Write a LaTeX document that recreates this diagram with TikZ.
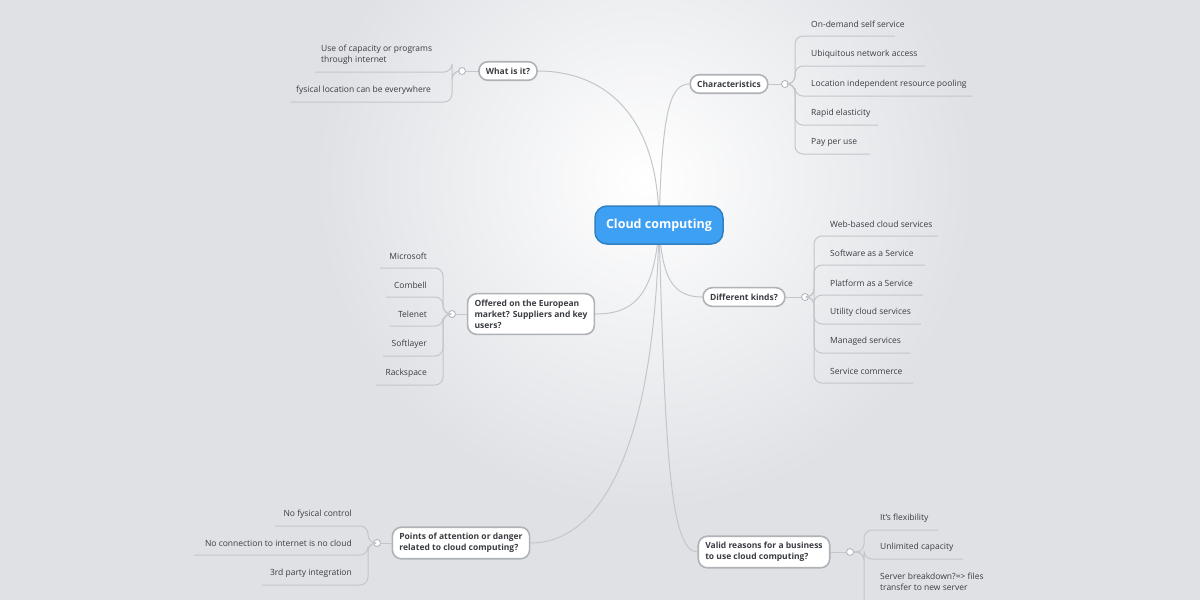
\documentclass[tikz,border=0pt]{standalone}
\usepackage{fontspec}
\setmainfont{Open Sans}
\definecolor{bgc}{HTML}{DFE1E5}
\definecolor{lnc}{HTML}{C3C6CA}
\definecolor{bluec}{HTML}{3DA0F2}
\definecolor{txc}{HTML}{3A3D42}
\begin{document}
\begin{tikzpicture}[x=1pt,y=-1pt,
    root/.style={draw=bluec!80!black,line width=1.5pt,fill=bluec,rounded corners=12pt,
      text=white,font=\bfseries\fontsize{12.5}{15}\selectfont,minimum width=128pt,minimum height=38pt},
    topic/.style={draw=lnc!90!black,line width=1.6pt,fill=white,rounded corners=9pt,
      text=txc,font=\bfseries\fontsize{8.5}{11}\selectfont,inner xsep=7pt,inner ysep=6pt,align=left},
    leaf/.style={text=txc,font=\fontsize{8.5}{11}\selectfont,inner sep=0pt,align=left},
    dot/.style={draw=lnc!90!black,fill=white,circle,inner sep=0pt,minimum size=7pt,line width=0.8pt},
    con/.style={draw=lnc,line width=1pt},
    sub/.style={draw=lnc,line width=1pt,rounded corners=8pt}
  ]
  \useasboundingbox (0,0) rectangle (1200,600);
  \fill[bgc] (0,0) rectangle (1200,600);
  \shade[inner color=white,outer color=bgc] (645,180) circle (330);

  \coordinate (cc) at (659,225);
  % topics
  \node[topic] (wi) at (508,71) {What is it?};
  \node[topic] (ch) at (729,84) {Characteristics};
  \node[topic] (dk) at (744,297) {Different kinds?};
  \node[topic] (of) at (531,314) {Offered on the European\\market? Suppliers and key\\users?};
  \node[topic] (pa) at (461,543) {Points of attention or danger\\related to cloud computing?};
  \node[topic] (vr) at (764,552) {Valid reasons for a business\\to use cloud computing?};

  \draw[con] (cc) .. controls (659,110) and (600,71) .. (wi.east);
  \draw[con] (cc) .. controls (662,110) and (670,84) .. (ch.west);
  \draw[con] (cc) .. controls (662,270) and (668,297) .. (dk.west);
  \draw[con] (cc) .. controls (655,300) and (630,314) .. (of.east);
  \draw[con] (cc) .. controls (655,450) and (600,543) .. (pa.east);
  \draw[con] (cc) .. controls (665,450) and (670,552) .. (vr.west);

  \node[root] (root) at (cc) {Cloud computing};

  % dots
  \node[dot] (wid) at (462,71) {};
  \node[dot] (chd) at (785,84) {};
  \node[dot] (dkd) at (805,297) {};
  \node[dot] (ofd) at (452,314) {};
  \node[dot] (pad) at (377,543) {};
  \node[dot] (vrd) at (850,552) {};
  \draw[con] (wi) -- (wid); \draw[con] (ch) -- (chd); \draw[con] (dk) -- (dkd);
  \draw[con] (of) -- (ofd); \draw[con] (pa) -- (pad); \draw[con] (vr) -- (vrd);

  % characteristics
  \foreach \t/\y/\e [count=\i] in {On-demand self service/24/895,Ubiquitous network access/54/925,
      Location independent resource pooling/84/972,Rapid elasticity/113/878,Pay per use/142/870}{
    \node[leaf,anchor=west] (ch\i) at (811,\y) {\t};
    \draw[sub] (chd.east) -| (795,\y+12) -- (\e,\y+12);
  }
  % different kinds
  \foreach \t/\y/\e [count=\i] in {Web-based cloud services/224/938,Software as a Service/253/925,
      Platform as a Service/283/923,Utility cloud services/312/921,Managed services/341/910,
      Service commerce/371/913}{
    \node[leaf,anchor=west] (dk\i) at (830,\y) {\t};
    \draw[sub] (dkd.east) -| (814,\y+12) -- (\e,\y+12);
  }
  % valid reasons
  \foreach \t/\y/\e [count=\i] in {It's flexibility/518/938,Unlimited capacity/547/963}{
    \node[leaf,anchor=west] (vr\i) at (880,\y) {\t};
    \draw[sub] (vrd.east) -| (864,\y+12) -- (\e,\y+12);
  }
  \node[leaf,anchor=west] (vr3) at (880,582) {Server breakdown?=> files\\transfer to new server};
  \draw[sub] (vrd.east) -| (864,600);

  % what is it
  \node[leaf,anchor=west] (wi1) at (321,55) {Use of capacity or programs\\through internet};
  \draw[sub] (wid.west) -| (452,72) -- (315,72);
  \node[leaf,anchor=west] (wi2) at (296,90) {fysical location can be everywhere};
  \draw[sub] (wid.west) -| (452,102) -- (290,102);

  % offered
  \foreach \t/\y/\s [count=\i] in {Microsoft/256/380,Combell/285/386,Telenet/314/390,
      Softlayer/344/383,Rackspace/373/376}{
    \node[leaf,anchor=east] (of\i) at (427,\y) {\t};
    \draw[sub] (ofd.west) -| (443,\y+12) -- (\s,\y+12);
  }
  % points of attention
  \foreach \t/\y/\s [count=\i] in {No fysical control/514/275,No connection to internet is no cloud/543/194,
      3rd party integration/573/262}{
    \node[leaf,anchor=east] (pa\i) at (352,\y) {\t};
    \draw[sub] (pad.west) -| (368,\y+12) -- (\s,\y+12);
  }
\end{tikzpicture}
\end{document}
